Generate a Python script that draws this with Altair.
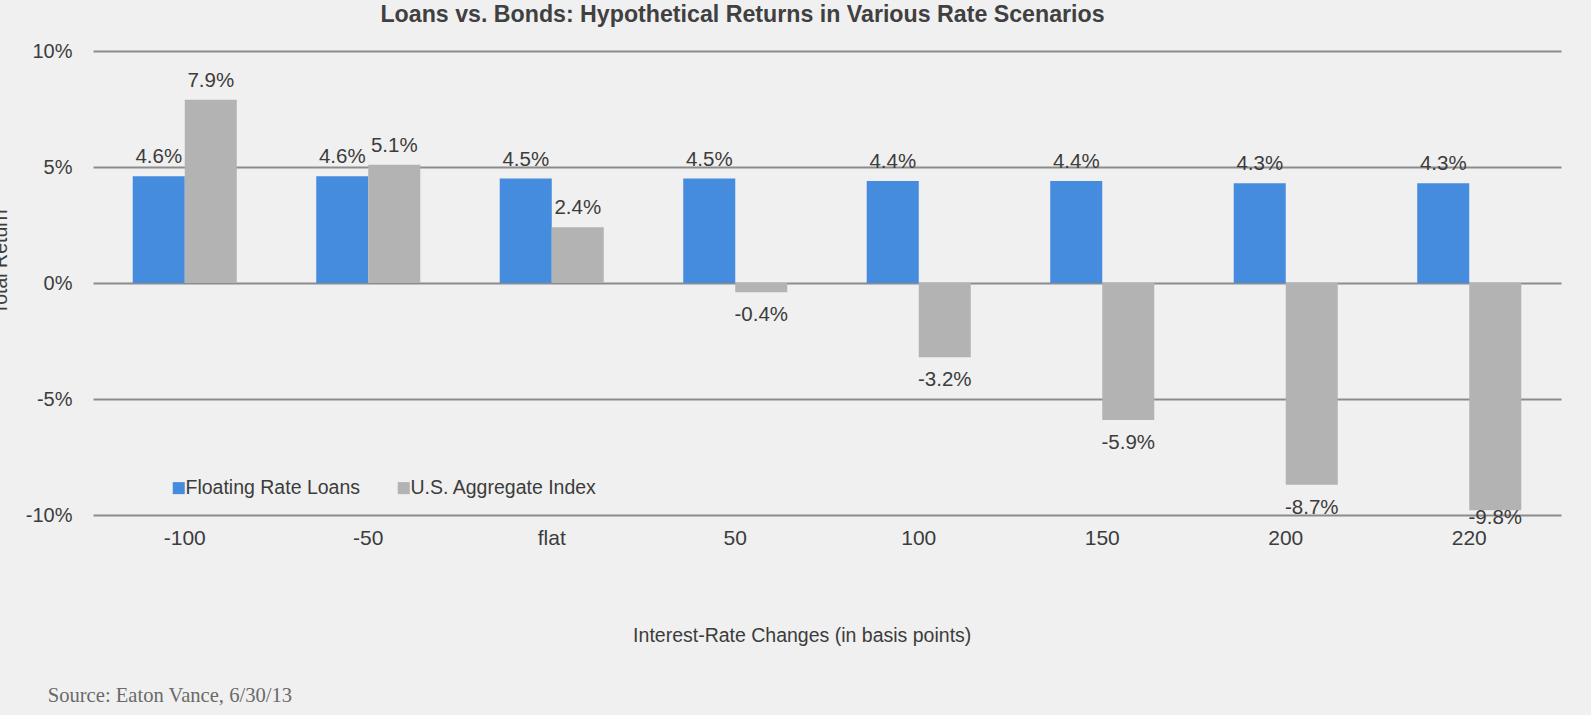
import altair as alt
import pandas as pd

# Rate scenarios (basis-point changes) and total-return estimates (%)
scenarios = ["-100", "-50", "flat", "50", "100", "150", "200", "220"]
series_names = ["Floating Rate Loans", "U.S. Aggregate Index"]
floating_rate_loans = [4.6, 4.6, 4.5, 4.5, 4.4, 4.4, 4.3, 4.3]
us_aggregate_index = [7.9, 5.1, 2.4, -0.4, -3.2, -5.9, -8.7, -9.8]
y_ticks = [-10, -5, 0, 5, 10]

title_text = "Loans vs. Bonds: Hypothetical Returns in Various Rate Scenarios"
source_text = "Source: Eaton Vance, 6/30/13"

rows = []
for i, s in enumerate(scenarios):
    rows.append({"scenario": s, "series": series_names[0], "value": floating_rate_loans[i]})
    rows.append({"scenario": s, "series": series_names[1], "value": us_aggregate_index[i]})
df = pd.DataFrame(rows)

TEXT = "#3c3c3c"
SANS = "Liberation Sans, Arial, sans-serif"

x_enc = alt.X(
    "scenario:N",
    sort=scenarios,
    scale=alt.Scale(paddingInner=0.433, paddingOuter=0.2165),
    axis=alt.Axis(
        title="Interest-Rate Changes (in basis points)",
        titleX=708.7, titleY=126.7, titleAnchor="start", titleAlign="center",
        titleBaseline="alphabetic", titleFontSize=19.5, titleFontWeight="normal",
        titleFont=SANS, titleColor=TEXT,
        labelAngle=0, labelFontSize=21, labelFont=SANS, labelColor=TEXT,
        labelBaseline="alphabetic", labelPadding=29,
        ticks=False, tickSize=0, domain=False, grid=False,
    ),
)
xoff_enc = alt.XOffset("series:N", sort=series_names, scale=alt.Scale(paddingInner=0, paddingOuter=0))

y_scale = alt.Scale(domain=[-10, 10], nice=False, zero=True)

bars = alt.Chart(df).mark_bar().encode(
    x=x_enc,
    xOffset=xoff_enc,
    y=alt.Y(
        "value:Q",
        scale=y_scale,
        axis=alt.Axis(
            values=y_ticks,
            labelExpr="datum.value + '%'",
            title="Total Return",
            titleAngle=-90, titleX=-86.3, titleY=210.5, titleAlign="center",
            titleBaseline="alphabetic", titleFontSize=19.5, titleFontWeight="normal",
            titleFont=SANS, titleColor=TEXT,
            labelFontSize=20, labelFont=SANS, labelColor=TEXT, labelPadding=21,
            labelBaseline="middle",
            ticks=False, tickSize=0, domain=False,
            grid=True, gridColor="#8c8c8c", gridWidth=2,
        ),
    ),
    color=alt.Color(
        "series:N",
        sort=series_names,
        scale=alt.Scale(domain=series_names, range=["#458cde", "#b3b3b3"]),
        legend=alt.Legend(
            title=None, orient="none", direction="horizontal",
            legendX=76, legendY=427, padding=0,
            symbolType="square", symbolSize=144, symbolStrokeWidth=0,
            symbolOpacity=1, labelFontSize=19.5, labelFont=SANS,
            labelColor=TEXT, labelOffset={"expr": "-3"}, columnPadding=33,
            labelLimit=0,
        ),
    ),
)

# Value labels: above positive bars, below negative bars (kept inside the plot floor)
labels = alt.Chart(df).transform_calculate(
    label_y="datum.value >= 0 ? datum.value + 0.56 : max(datum.value - 1.25, -10.4)",
    label="datum.value + '%'",
).mark_text(
    baseline="alphabetic", align="center", fontSize=20.5, font=SANS, color=TEXT
).encode(
    x=alt.X("scenario:N", sort=scenarios),
    xOffset=alt.XOffset("series:N", sort=series_names),
    y=alt.Y("label_y:Q", scale=y_scale),
    text="label:N",
)

title = alt.Chart(pd.DataFrame({"t": [title_text]})).mark_text(
    align="center", baseline="alphabetic", fontSize=23.2, fontWeight="bold",
    font=SANS, color="#404040",
).encode(x=alt.value(649.5), y=alt.value(-29.3), text="t:N")

source = alt.Chart(pd.DataFrame({"t": [source_text]})).mark_text(
    align="left", baseline="alphabetic", fontSize=20.6,
    font="Liberation Serif, Times New Roman, serif", color="#6a6a6a",
).encode(x=alt.value(-45.3), y=alt.value(650.7), text="t:N")

chart = (
    alt.layer(bars, labels, title, source)
    .properties(
        width=1468,
        height=464,
        autosize=alt.AutoSizeParams(type="none"),
        padding={"left": 93, "top": 51, "right": 30, "bottom": 200},
        background="#f0f0f0",
    )
    .configure_view(stroke=None)
)

chart.save("out.html", embed_options={"renderer": "svg", "actions": False})
